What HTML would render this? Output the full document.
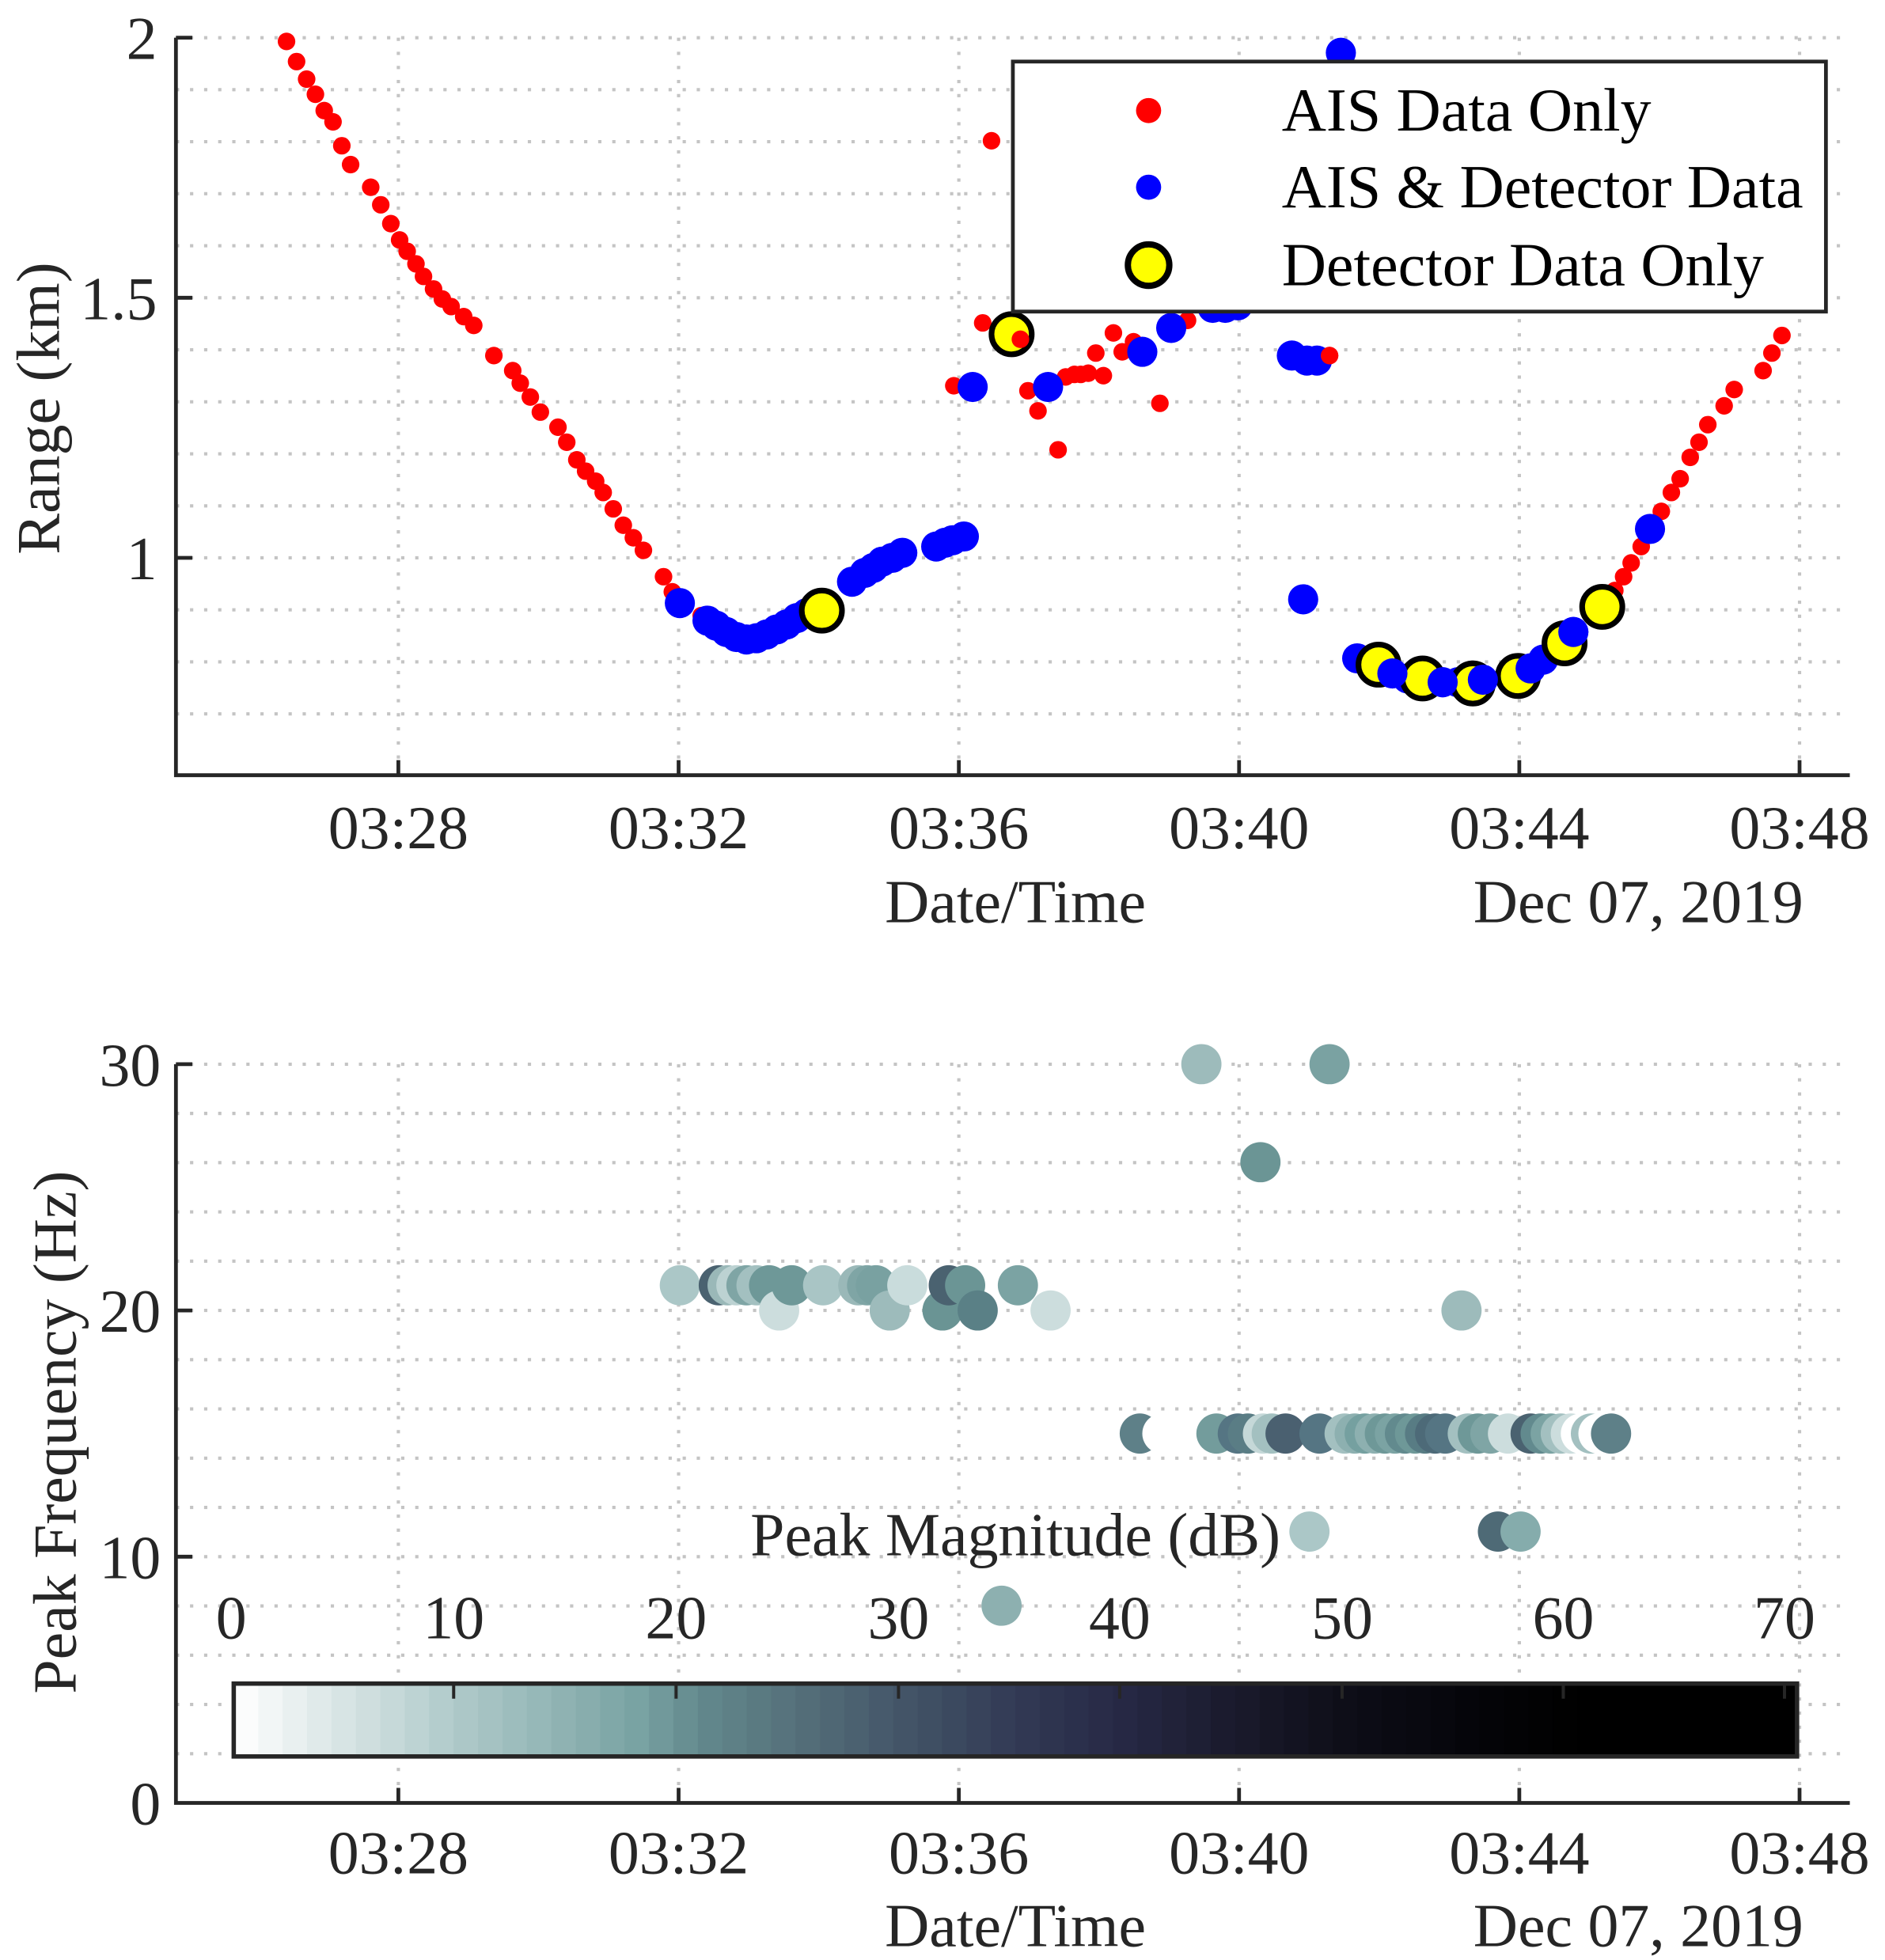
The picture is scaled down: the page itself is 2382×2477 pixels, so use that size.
<!DOCTYPE html>
<html><head><meta charset="utf-8"><style>
html,body{margin:0;padding:0;background:#fff;}
svg{display:block;}
text{font-family:"Liberation Serif","Times New Roman",serif;fill:#262626;}
</style></head><body>
<svg id="s" width="2382" height="2477" viewBox="0 0 1500 1560" preserveAspectRatio="none" xmlns="http://www.w3.org/2000/svg">
<g id="grid" stroke="#c4c4c4" stroke-width="2.6" stroke-dasharray="2.6 8.6" fill="none"></g>
<g id="pts"></g>
<g id="axes" stroke="#262626" stroke-width="3" fill="none"></g>
<g id="cb"></g>
<g id="legend">
<rect x="806" y="49" width="647" height="199" fill="#fff" stroke="#262626" stroke-width="3"/>
<circle cx="914" cy="88" r="10" fill="#ff0000"/>
<circle cx="914" cy="149" r="10" fill="#0000ff"/>
<circle cx="914" cy="211" r="16.5" fill="#ffff00" stroke="#000" stroke-width="5"/>
<text x="1020" y="104" font-size="49" style="fill:#000">AIS Data Only</text>
<text x="1020" y="165" font-size="49" style="fill:#000">AIS &amp; Detector Data</text>
<text x="1020" y="227" font-size="49" style="fill:#000">Detector Data Only</text>
</g>
<g id="labels" font-size="49">
<text x="125" y="47" text-anchor="end">2</text>
<text x="125" y="254" text-anchor="end">1.5</text>
<text x="125" y="461" text-anchor="end">1</text>
<text transform="translate(47,325) rotate(-90)" text-anchor="middle">Range (km)</text>
<text x="317" y="675" text-anchor="middle">03:28</text>
<text x="540" y="675" text-anchor="middle">03:32</text>
<text x="763" y="675" text-anchor="middle">03:36</text>
<text x="986" y="675" text-anchor="middle">03:40</text>
<text x="1209" y="675" text-anchor="middle">03:44</text>
<text x="1432" y="675" text-anchor="middle">03:48</text>
<text x="808" y="734" text-anchor="middle">Date/Time</text>
<text x="1435" y="734" text-anchor="end">Dec 07, 2019</text>

<text x="128" y="864" text-anchor="end">30</text>
<text x="128" y="1060" text-anchor="end">20</text>
<text x="128" y="1256" text-anchor="end">10</text>
<text x="128" y="1452" text-anchor="end">0</text>
<text transform="translate(60,1140) rotate(-90)" text-anchor="middle">Peak Frequency (Hz)</text>
<text x="317" y="1491" text-anchor="middle">03:28</text>
<text x="540" y="1491" text-anchor="middle">03:32</text>
<text x="763" y="1491" text-anchor="middle">03:36</text>
<text x="986" y="1491" text-anchor="middle">03:40</text>
<text x="1209" y="1491" text-anchor="middle">03:44</text>
<text x="1432" y="1491" text-anchor="middle">03:48</text>
<text x="808" y="1549" text-anchor="middle">Date/Time</text>
<text x="1435" y="1549" text-anchor="end">Dec 07, 2019</text>

<text x="808" y="1238" text-anchor="middle">Peak Magnitude (dB)</text>
<text x="184" y="1304" text-anchor="middle">0</text>
<text x="361" y="1304" text-anchor="middle">10</text>
<text x="538" y="1304" text-anchor="middle">20</text>
<text x="715" y="1304" text-anchor="middle">30</text>
<text x="891" y="1304" text-anchor="middle">40</text>
<text x="1068" y="1304" text-anchor="middle">50</text>
<text x="1244" y="1304" text-anchor="middle">60</text>
<text x="1420" y="1304" text-anchor="middle">70</text>
</g>
</svg>
<script>
const NS="http://www.w3.org/2000/svg";
function el(p,t,a){const e=document.createElementNS(NS,t);for(const k in a)e.setAttribute(k,a[k]);p.appendChild(e);return e;}
const grid=document.getElementById('grid'),axes=document.getElementById('axes'),pts=document.getElementById('pts'),cb=document.getElementById('cb');
const XT=[317,540,763,986,1209,1432];
for(let i=0;i<14;i++){const y=30+i*41.4;el(grid,'line',{x1:140,x2:1472,y1:y,y2:y});}
XT.forEach(x=>el(grid,'line',{x1:x,x2:x,y1:30,y2:617}));
for(let i=0;i<15;i++){const y=847+i*39.2;el(grid,'line',{x1:140,x2:1472,y1:y,y2:y});}
XT.forEach(x=>el(grid,'line',{x1:x,x2:x,y1:847,y2:1435}));
el(axes,'polyline',{points:"140,30 140,617 1472,617"});
el(axes,'polyline',{points:"140,847 140,1435 1472,1435"});
XT.forEach(x=>{el(axes,'line',{x1:x,x2:x,y1:617,y2:605});el(axes,'line',{x1:x,x2:x,y1:1435,y2:1423});});
[30,237,444].forEach(y=>el(axes,'line',{x1:140,x2:153,y1:y,y2:y}));
[847,1043,1239].forEach(y=>el(axes,'line',{x1:140,x2:153,y1:y,y2:y}));
const red=[[228,33],[236,49],[244,63],[251,75],[258,88],[265,97],[272,116],[279,131],[295,149],[303,163],[311,178],[318,191],[324,200],[331,210],[337,220],[345,230],[352,238],[359,244],[369,252],[377,259],[393,283],[408,295],[414,305],[422,316],[430,328],[444,340],[451,352],[459,366],[466,375],[474,383],[480,392],[488,405],[496,418],[504,428],[512,438],[528,459],[535,471],[543,479],[558,490],[640,490],[684,460],[712,444],[759,307],[782,257],[789,112],[812,270],[818,311],[826,327],[842,358],[848,300],[855,298],[860,298],[866,297],[878,299],[872,281],[886,265],[893,280],[902,272],[923,321],[945,255],[962,247],[1058,283],[1142,541],[1285,470],[1292,459],[1298,448],[1306,435],[1322,407],[1330,392],[1337,381],[1345,364],[1352,352],[1359,338],[1372,323],[1380,310],[1403,295],[1410,281],[1418,267]];
const blue=[[541,480],[563,494],[570,498],[578,503],[586,507],[594,509],[602,508],[610,505],[618,501],[626,497],[634,492],[642,488],[678,463],[688,456],[695,452],[702,447],[710,444],[718,440],[745,435],[752,432],[758,430],[767,427],[774,308],[834,308],[909,280],[932,261],[965,245],[975,245],[985,243],[1067,42],[1028,283],[1040,287],[1048,287],[1037,477],[1080,524],[1108,536],[1120,540],[1148,543],[1160,543],[1180,541],[1218,532],[1228,525],[1240,514],[1252,503],[1313,421]];
const yel=[[654,486],[805,266],[1097,529],[1132,540],[1172,544],[1208,538],[1245,512],[1275,483]];
red.forEach(p=>el(pts,'circle',{cx:p[0],cy:p[1],r:7,fill:'#ff0000'}));
blue.forEach(p=>el(pts,'circle',{cx:p[0],cy:p[1],r:12,fill:'#0000ff'}));
yel.forEach(p=>el(pts,'circle',{cx:p[0],cy:p[1],r:16,fill:'#ffff00',stroke:'#000','stroke-width':4.5}));
[[812,270],[1058,283]].forEach(p=>el(pts,'circle',{cx:p[0],cy:p[1],r:7,fill:'#ff0000'}));
[[1108,536],[1148,543],[1180,541],[1218,532],[1252,503]].forEach(p=>el(pts,'circle',{cx:p[0],cy:p[1],r:12,fill:'#0000ff'}));
const bp=[
[541,1023,'#abc7c7'],[572,1023,'#4a6270'],[579,1023,'#9ab8b8'],[586,1023,'#bcd2d2'],[594,1023,'#7fa5a5'],[602,1023,'#a3c0c0'],[612,1023,'#6e9898'],[620,1043,'#ccdddd'],[630,1023,'#6e9898'],[655,1023,'#a9c5c5'],[683,1023,'#9ab8b8'],[690,1023,'#7fa5a5'],[697,1023,'#79a1a1'],[708,1043,'#9dbbbb'],[722,1023,'#c9dcdc'],[750,1043,'#6a9494'],[755,1023,'#4a6270'],[768,1023,'#6b9595'],[778,1043,'#5a8086'],[810,1023,'#7ba3a3'],[836,1043,'#ccdddd'],[1163,1043,'#9dbbbb'],
[956,847,'#9dbbbb'],[1058,847,'#7aa2a2'],[1003,925,'#6b9595'],
[907,1141,'#5e8088'],[925,1141,'#ffffff'],[968,1141,'#739c9c'],[985,1141,'#557583'],[993,1141,'#5a7d85'],[1005,1141,'#c5d8d8'],[1012,1141,'#a3c0c0'],[1023,1141,'#4a6070'],[1050,1141,'#557583'],[1070,1141,'#a3c0c0'],[1078,1141,'#8db0b0'],[1086,1141,'#75a0a0'],[1094,1141,'#8db0b0'],[1102,1141,'#6e9898'],[1110,1141,'#7ba3a3'],[1118,1141,'#628a8e'],[1126,1141,'#6e9898'],[1134,1141,'#587c84'],[1142,1141,'#4d6a78'],[1150,1141,'#557583'],[1168,1141,'#a3c0c0'],[1176,1141,'#6e9898'],[1186,1141,'#7fa5a5'],[1200,1141,'#ccdddd'],[1218,1141,'#4a6270'],[1226,1141,'#628a8e'],[1234,1141,'#7ba3a3'],[1242,1141,'#a3c0c0'],[1250,1141,'#ccdddd'],[1258,1141,'#ffffff'],[1266,1141,'#a3c0c0'],[1272,1141,'#ffffff'],[1282,1141,'#5e8088'],
[1042,1219,'#abc7c7'],[1192,1219,'#4e6a76'],[1210,1219,'#85acac'],[797,1278,'#8db0b0']];
bp.forEach(p=>el(pts,'circle',{cx:p[0],cy:p[1],r:16,fill:p[2]}));
const stops=[[0,[255,255,255]],[0.14,[176,202,202]],[0.26,[120,162,162]],[0.3,[98,136,140]],[0.36,[85,112,122]],[0.42,[69,88,106]],[0.5,[50,58,85]],[0.57,[38,40,68]],[0.64,[26,26,44]],[0.71,[14,14,24]],[0.8,[4,4,8]],[0.86,[0,0,0]],[1,[0,0,0]]];
function cm(t){for(let i=1;i<stops.length;i++){if(t<=stops[i][0]){const a=stops[i-1],b=stops[i];const f=(t-a[0])/(b[0]-a[0]);return 'rgb('+a[1].map((v,k)=>Math.round(v+(b[1][k]-v)*f)).join(',')+')';}}return '#000';}
const x0=186,x1=1430,N=64,w=(x1-x0)/N;
for(let i=0;i<N;i++)el(cb,'rect',{x:x0+i*w,y:1340,width:w+0.6,height:58,fill:cm((i+0.5)/N)});
el(cb,'rect',{x:x0,y:1340,width:x1-x0,height:58,fill:'none',stroke:'#262626','stroke-width':3.5});
[361,538,715,891,1068,1244,1420].forEach(x=>el(cb,'line',{x1:x,x2:x,y1:1341,y2:1352,stroke:'#262626','stroke-width':2.5}));
</script>
</body></html>
